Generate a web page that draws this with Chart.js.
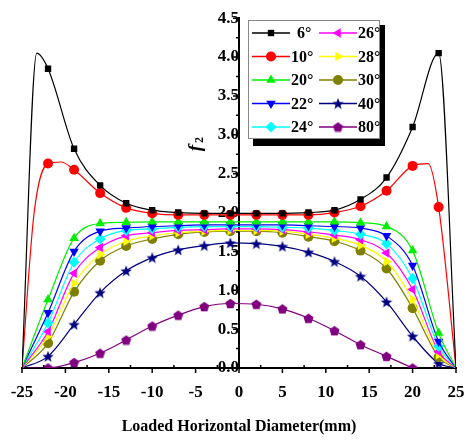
<!DOCTYPE html>
<html><head><meta charset="utf-8">
<script src="https://cdn.jsdelivr.net/npm/chart.js@4/dist/chart.umd.min.js"></script>
<style>body{margin:0;background:#fff}#w{width:474px;height:440px}</style>
</head><body><div id="w"><canvas id="c"></canvas></div>
<script>
const labels = ['6°','10°','20°','22°','24°','26°','28°','30°','40°','80°'];
const xs = [-25,-22,-19,-16,-13,-10,-7,-4,-1,2,5,8,11,14,17,20,23,25];
const s6  = [0,3.85,2.82,2.35,2.12,2.03,2.0,1.99,1.99,1.99,1.99,2.0,2.03,2.17,2.45,3.1,4.05,0];
const s10 = [0,2.63,2.55,2.25,2.06,1.99,1.97,1.97,1.97,1.97,1.97,1.97,2.0,2.08,2.28,2.6,2.07,0];
const s20 = [0,0.88,1.67,1.86,1.875,1.88,1.88,1.88,1.88,1.88,1.88,1.88,1.88,1.87,1.82,1.51,0.45,0];
const s22 = [0,0.71,1.50,1.76,1.80,1.82,1.83,1.84,1.84,1.84,1.84,1.83,1.82,1.80,1.70,1.32,0.34,0];
const s24 = [0,0.58,1.36,1.66,1.77,1.79,1.81,1.82,1.82,1.82,1.81,1.80,1.77,1.72,1.60,1.15,0.28,0];
const s26 = [0,0.47,1.22,1.55,1.70,1.74,1.77,1.78,1.79,1.79,1.78,1.75,1.71,1.65,1.48,1.01,0.21,0];
const s28 = [0,0.41,1.09,1.46,1.63,1.70,1.74,1.76,1.77,1.77,1.76,1.72,1.67,1.58,1.37,0.88,0.17,0];
const s30 = [0,0.32,0.98,1.38,1.57,1.66,1.72,1.75,1.76,1.76,1.74,1.69,1.63,1.51,1.28,0.77,0.14,0];
const s40 = [0,0.15,0.56,0.97,1.25,1.42,1.52,1.575,1.61,1.60,1.565,1.49,1.37,1.18,0.85,0.41,0.06,0];
const s80 = [0,0.0,0.07,0.19,0.36,0.54,0.68,0.79,0.83,0.82,0.76,0.64,0.48,0.30,0.15,0.0,null,null];
const peak6 = [[-23.3,4.05]];
const peak10 = [[-23.6,2.0],[-20.5,2.65],[21.8,2.63]];
const xTicks = [-25,-20,-15,-10,-5,0,5,10,15,20,25];

function mk(shape,color,sz){
  const c=document.createElement('canvas');c.width=c.height=sz;const g=c.getContext('2d');
  g.fillStyle=color;g.beginPath();const r=sz/2;const n=shape==='star'?10:5;
  for(let i=0;i<n;i++){
    const a=-Math.PI/2+i*Math.PI*2/n;
    const rr= shape==='star' ? (i%2? r*0.42: r) : r*0.95;
    g.lineTo(r+rr*Math.cos(a), r+rr*Math.sin(a)+(shape==='star'?0.6:0.4));
  }
  g.closePath();g.fill();return c;
}
const styles = [
 {c:'#000000',p:'rect',rot:0,r:4.5},
 {c:'#ff0000',p:'circle',rot:0,r:5},
 {c:'#00ee00',p:'triangle',rot:0,r:5.5},
 {c:'#0000ff',p:'triangle',rot:180,r:5.5},
 {c:'#00ffff',p:'rectRot',rot:0,r:5.5},
 {c:'#ff00ff',p:'triangle',rot:-90,r:5.5},
 {c:'#ffff00',p:'triangle',rot:90,r:5.5},
 {c:'#808000',p:'circle',rot:0,r:5},
 {c:'#000080',p:mk('star','#000080',12),rot:0,r:6},
 {c:'#800080',p:mk('pent','#800080',11),rot:0,r:5.5}
];
const series=[s6,s10,s20,s22,s24,s26,s28,s30,s40,s80];
const datasets = series.map((s,i)=>{
  let pts = xs.map((x,j)=>({x, y:s[j], m: !(x===-25||x===25)})).filter(p=>p.y!==null);
  const extra = i===0?peak6:(i===1?peak10:[]);
  extra.forEach(e=>pts.push({x:e[0],y:e[1],m:false}));
  pts.sort((a,b)=>a.x-b.x);
  const st=styles[i];
  return {label:labels[i],data:pts,showLine:true,borderColor:st.c,backgroundColor:st.c,borderWidth:1.2,
    pointStyle:st.p,rotation:st.rot,pointRadius:pts.map(p=>p.m?st.r:0),pointBorderWidth:0,
    cubicInterpolationMode:'monotone',tension:0.4};
});
const F='"Liberation Serif", "DejaVu Serif", serif';
const extras={id:'extras',afterDraw(ch){
  const g=ch.ctx;const drawPoint=Chart.helpers.drawPoint;
  const xs_=ch.scales.x, ys_=ch.scales.y; const ax=xs_.getPixelForValue(0), by=ys_.getPixelForValue(0);
  g.strokeStyle='#000';g.lineWidth=1.5;g.beginPath();
  for(let v=0;v<=4.5001;v+=0.25){const y=ys_.getPixelForValue(v);const L=(Math.round(v*4)%2===0)?6:3;g.moveTo(ax-L,y);g.lineTo(ax,y);}
  for(let v=-25;v<=25;v+=2.5){const x=xs_.getPixelForValue(v);const maj=(Math.round(v*2)%10===0);g.moveTo(x,by+(maj?5:0));g.lineTo(x,by-(maj?0:3));}
  g.stroke();
  // y title
  g.save();g.translate(196,145);g.rotate(-Math.PI/2);g.font='italic bold 19px '+F;g.fillStyle='#000';
  g.textAlign='center';g.textBaseline='middle';g.fillText('f',-3,0);g.font='bold 12px '+F;g.fillText('2',5,4);g.restore();
  // legend
  const L=248,T=20,W=131,H=118;
  g.fillStyle='#000';g.fillRect(L+5,T+5+H-4,W,7);g.fillRect(L+W,T+5,6,H+3);
  g.fillStyle='#fff';g.fillRect(L,T,W,H);g.strokeStyle='#888';g.lineWidth=1;g.strokeRect(L+0.5,T+0.5,W,H);
  g.font='bold 16px '+F;g.textBaseline='middle';
  for(let i=0;i<10;i++){
    const col=i<5?0:1,row=i%5;const x0=L+4+col*67,y=T+13+row*23.5;
    const st=styles[i];
    g.strokeStyle=st.c;g.lineWidth=1.3;g.beginPath();g.moveTo(x0,y);g.lineTo(x0+38,y);g.stroke();
    g.fillStyle=st.c;
    drawPoint(g,{pointStyle:st.p,rotation:st.rot,radius:st.r,borderWidth:0},x0+19,y);
    g.fillStyle='#000';g.fillText(labels[i],x0+39+(i===0?6:0),y+1);
  }
}};
new Chart(document.getElementById('c'),{type:'scatter',data:{datasets},
 options:{responsive:true,maintainAspectRatio:false,animation:false,
  layout:{padding:{left:22,right:18,top:17,bottom:0}},
  plugins:{legend:{display:false},tooltip:{enabled:false}},
  scales:{
   x:{type:'linear',min:-25,max:25,afterFit(s){s.height=72;},
     afterBuildTicks(s){s.ticks=xTicks.map(v=>({value:v}));},
     grid:{display:false},border:{color:'#000',width:2},
     ticks:{color:'#000',font:{family:F,weight:'bold',size:17},padding:6},
     title:{display:true,text:'Loaded Horizontal Diameter(mm)',color:'#000',font:{family:F,weight:'bold',size:16},padding:{top:12}}},
   y:{type:'linear',min:0,max:4.5,position:{x:0},
     ticks:{stepSize:0.5,color:'#000',font:{family:F,weight:'bold',size:17},padding:8,callback:v=>v.toFixed(1)},
     grid:{display:false},border:{color:'#000',width:2}}
  }},plugins:[extras]});
</script></body></html>
